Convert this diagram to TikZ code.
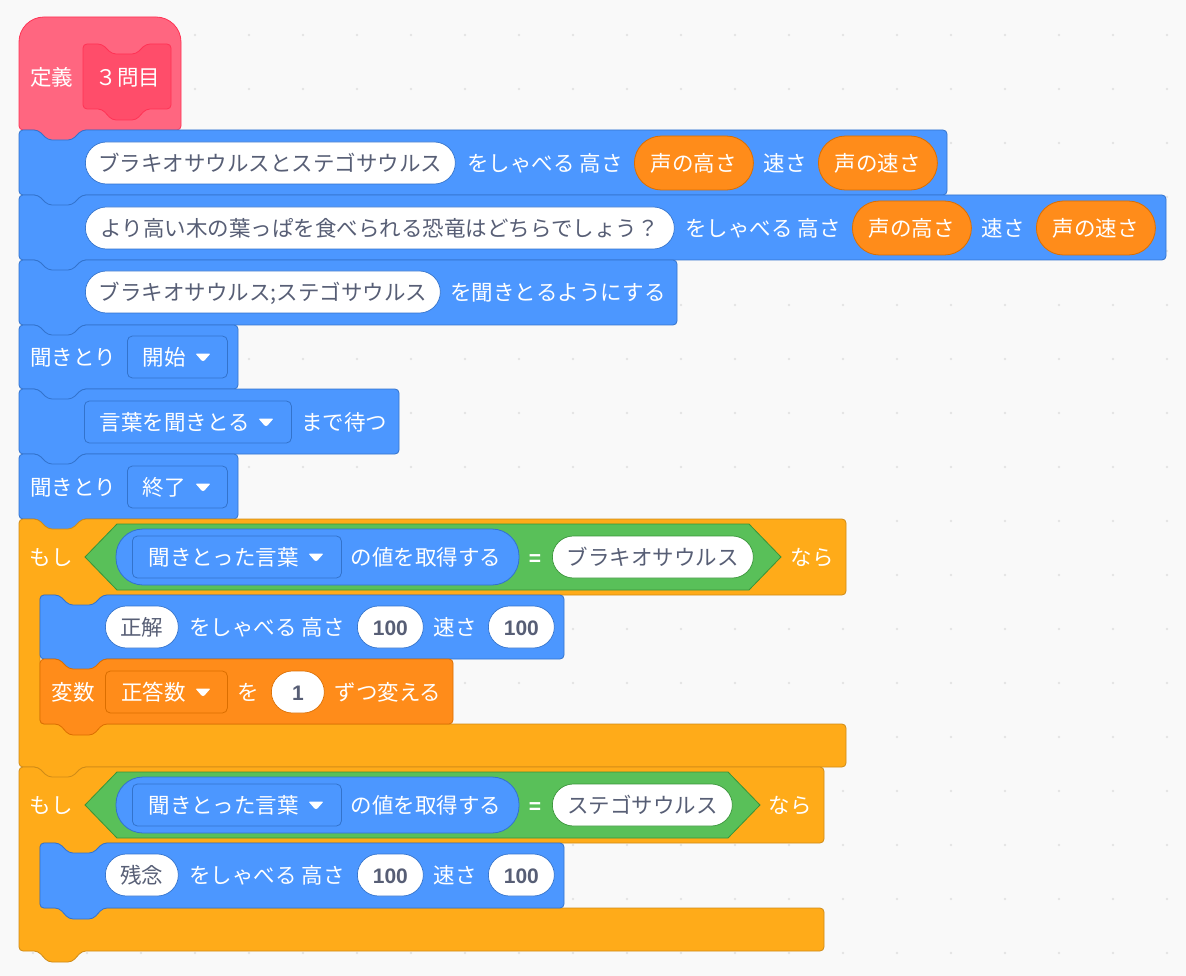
\documentclass[tikz,border=0pt]{standalone}
\usepackage{fontspec}
\setmainfont{Noto Sans CJK JP}
\newfontfamily\numfont{Liberation Sans}
\usetikzlibrary{arrows.meta}

\definecolor{sheet}{HTML}{F9F9F9}
\definecolor{griddot}{HTML}{E3E3E3}
\definecolor{motion}{HTML}{4C97FF}
\definecolor{motionline}{HTML}{3373CC}
\definecolor{hatred}{HTML}{FF6680}
\definecolor{hatline}{HTML}{FF3355}
\definecolor{hatdark}{HTML}{FF4D6A}
\definecolor{vardark}{HTML}{FF8C1A}
\definecolor{varline}{HTML}{DB6E00}
\definecolor{ctrl}{HTML}{FFAB19}
\definecolor{ctrlline}{HTML}{CF8B17}
\definecolor{oper}{HTML}{59C059}
\definecolor{operline}{HTML}{389438}
\definecolor{fieldtext}{HTML}{575E75}

\newcommand{\notchtop}[2]{-- ({#1+19},#2) -- ({#1+29},{#2+10}) -- ({#1+53},{#2+10}) -- ({#1+63},#2)}
\newcommand{\tabbottom}[2]{-- ({#1+63},#2) -- ({#1+53},{#2+11}) -- ({#1+29},{#2+11}) -- ({#1+19},#2)}
\newcommand{\stackblock}[5]{\draw[#5] (#1,{#2+20}) -- (#1,#2) \notchtop{#1}{#2} -- (#3,#2) -- (#3,#4) \tabbottom{#1}{#4} -- (#1,#4) -- cycle;}
\newcommand{\dropmark}[2]{\fill[white,rounded corners=1pt] ({#1-7.5},{#2-3.5}) -- ({#1+7.5},{#2-3.5}) -- ({#1+1},{#2+4}) -- ({#1-1},{#2+4}) -- cycle;}
\newcommand{\ctrlblock}[7]{\draw[ctrlshape] (#1,{#2+20}) -- (#1,#2) \notchtop{#1}{#2} -- (#3,#2) -- (#3,#4) \tabbottom{(#1+21)}{#4} -- ({#1+21},#4) -- ({#1+21},#5) -- (#6,#5) -- (#6,#7) \tabbottom{#1}{#7} -- (#1,#7) -- cycle;}

\begin{document}
\begin{tikzpicture}[x=1pt,y=-1pt]
  \tikzset{motionshape/.style = {fill=motion,draw=motionline,line width=.8pt,rounded corners=4pt}}
  \tikzset{varshape/.style = {fill=vardark,draw=varline,line width=.8pt,rounded corners=4pt}}
  \tikzset{protoshape/.style = {fill=hatdark,draw=hatline,line width=.8pt,rounded corners=4pt}}
  \tikzset{ctrlshape/.style = {fill=ctrl,draw=ctrlline,line width=.8pt,rounded corners=4pt}}
  \tikzset{caption/.style = {inner sep=0pt,text=white,font=\fontsize{21.5}{25}\selectfont,text height=20pt,text depth=2.5pt}}
  \tikzset{strpill/.style = {caption,anchor=west,shape=rectangle,fill=white,draw=motionline,line width=.7pt,minimum height=42pt,rounded corners=21pt,text=fieldtext}}
  \tikzset{numpill/.style = {strpill,font=\fontsize{21}{25}\numfont\bfseries}}
  \tikzset{voicepill/.style = {caption,anchor=west,fill=vardark,draw=varline,line width=.8pt,minimum width=119pt,minimum height=54pt,rounded corners=27pt}}
  \tikzset{dropbox/.style = {caption,anchor=west,fill=motion,draw=motionline,line width=.8pt,minimum height=42pt,rounded corners=5pt}}
  \tikzset{reportbox/.style = {fill=motion,draw=motionline,line width=.8pt,rounded corners=27pt}}
  \tikzset{hexshape/.style = {fill=oper,draw=operline,line width=.8pt}}

  % sheet and dots
  \fill[sheet] (0,0) rectangle (1186,976);
  \foreach \dy in {35,89,...,980}
    \foreach \dx in {33,87,...,1186}
      \fill[griddot] (\dx,\dy) circle (1.3);

  % hat
  \draw[fill=hatred,draw=hatline,line width=.8pt] (19,60) [rounded corners=25pt] -- (19,17) -- (181,17) [rounded corners=4pt] -- (181,130) \tabbottom{19}{130} -- (19,130) -- cycle;
  \stackblock{83}{44}{171}{109}{protoshape}
  \node[caption] (defword) at (52,77) {定義};
  \node[caption] (defname) at (128,77) {３問目};

  % speech blocks
  \stackblock{19}{130}{947}{195}{motionshape}
  \stackblock{19}{195}{1166}{260}{motionshape}
  \stackblock{19}{260}{677}{325}{motionshape}
  \stackblock{19}{325}{238}{389}{motionshape}
  \stackblock{19}{389}{399}{454}{motionshape}
  \stackblock{19}{454}{238}{519}{motionshape}

  \node[strpill,minimum width=370pt] (askA) at (85,163) {ブラキオサウルスとステゴサウルス};
  \node[caption] (sayA) at (545,163) {をしゃべる 高さ};
  \node[voicepill] (pitchA) at (634,163) {声の高さ};
  \node[caption] (fastA) at (785,163) {速さ};
  \node[voicepill] (speedA) at (818,163) {声の速さ};

  \node[strpill,minimum width=589pt] (askB) at (85,228) {より高い木の葉っぱを食べられる恐竜はどちらでしょう？};
  \node[caption] (sayB) at (763,228) {をしゃべる 高さ};
  \node[voicepill] (pitchB) at (852,228) {声の高さ};
  \node[caption] (fastB) at (1003,228) {速さ};
  \node[voicepill] (speedB) at (1036,228) {声の速さ};

  \node[strpill,minimum width=355pt] (hints) at (85,292) {ブラキオサウルス;ステゴサウルス};
  \node[caption] (hintword) at (558,292) {を聞きとるようにする};

  \node[caption] (listenA) at (73,357) {聞きとり};
  \node[dropbox,minimum width=100pt] (startbox) at (127,357) {\hspace*{-26pt}開始};
  \dropmark{203}{357}

  \node[dropbox,minimum width=207pt] (wordbox) at (84,422) {\hspace*{-26pt}言葉を聞きとる};
  \dropmark{266}{422}
  \node[caption] (waitword) at (344,422) {まで待つ};

  \node[caption] (listenB) at (73,487) {聞きとり};
  \node[dropbox,minimum width=100pt] (endbox) at (127,487) {\hspace*{-26pt}終了};
  \dropmark{203}{487}

  % first if
  \ctrlblock{19}{519}{846}{595}{724}{846}{767}
  \draw[hexshape] (85,557) -- (117,524) -- (749,524) -- (781,557) -- (749,590) -- (117,590) -- cycle;
  \draw[reportbox] (116,529) rectangle (519,585);
  \node[caption] (ifA) at (51,557) {もし};
  \node[dropbox,minimum width=209pt] (heardA) at (132,557) {\hspace*{-26pt}聞きとった言葉};
  \dropmark{316}{557}
  \node[caption] (valueA) at (426,557) {の値を取得する};
  \node[caption,font=\fontsize{21}{25}\numfont\bfseries] (eqA) at (535,557) {=};
  \node[strpill,draw=operline,minimum width=201pt] (brachio) at (552,557) {ブラキオサウルス};
  \node[caption] (thenA) at (812,557) {なら};

  \stackblock{40}{595}{564}{659}{motionshape}
  \node[strpill,minimum width=73pt] (right) at (105,627) {正解};
  \node[caption] (sayC) at (267,627) {をしゃべる 高さ};
  \node[numpill,minimum width=66pt] (pitchC) at (357,627) {100};
  \node[caption] (fastC) at (455,627) {速さ};
  \node[numpill,minimum width=66pt] (speedC) at (488,627) {100};

  \stackblock{40}{659}{453}{724}{varshape}
  \node[caption] (varword) at (73,692) {変数};
  \node[dropbox,fill=vardark,draw=varline,minimum width=122pt] (scorebox) at (105,692) {\hspace*{-26pt}正答数};
  \dropmark{203}{692}
  \node[caption] (byword) at (248,692) {を};
  \node[numpill,draw=varline,minimum width=53pt] (step1) at (271,692) {1};
  \node[caption] (changeword) at (388,692) {ずつ変える};

  % second if
  \ctrlblock{19}{767}{824}{843}{908}{824}{951}
  \draw[hexshape] (85,805) -- (117,772) -- (728,772) -- (760,805) -- (728,838) -- (117,838) -- cycle;
  \draw[reportbox] (116,777) rectangle (519,833);
  \node[caption] (ifB) at (51,805) {もし};
  \node[dropbox,minimum width=209pt] (heardB) at (132,805) {\hspace*{-26pt}聞きとった言葉};
  \dropmark{316}{805}
  \node[caption] (valueB) at (426,805) {の値を取得する};
  \node[caption,font=\fontsize{21}{25}\numfont\bfseries] (eqB) at (535,805) {=};
  \node[strpill,draw=operline,minimum width=180pt] (stego) at (552,805) {ステゴサウルス};
  \node[caption] (thenB) at (790,805) {なら};

  \stackblock{40}{843}{564}{908}{motionshape}
  \node[strpill,minimum width=73pt] (wrong) at (105,875) {残念};
  \node[caption] (sayD) at (267,875) {をしゃべる 高さ};
  \node[numpill,minimum width=66pt] (pitchD) at (357,875) {100};
  \node[caption] (fastD) at (455,875) {速さ};
  \node[numpill,minimum width=66pt] (speedD) at (488,875) {100};

  \useasboundingbox (0,0) rectangle (1186,976);
\end{tikzpicture}
\end{document}
